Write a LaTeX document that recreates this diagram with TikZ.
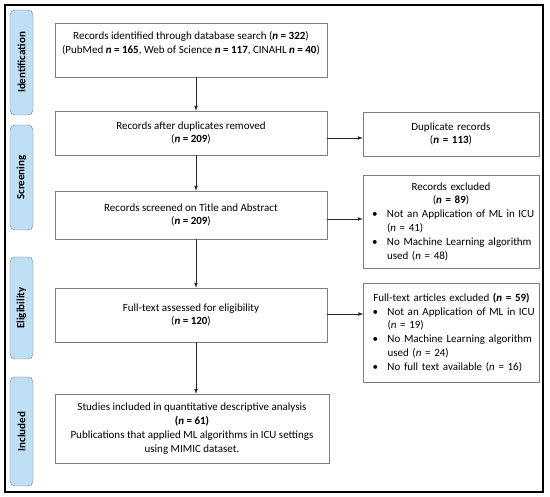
\documentclass[tikz,border=0pt]{standalone}
\usepackage{fontspec}
\setmainfont{Carlito}
\usepackage{tikz}

\definecolor{phasefill}{RGB}{190,223,244}
\definecolor{phaseline}{RGB}{105,125,145}
\definecolor{boxline}{RGB}{125,125,125}
\newcommand{\nn}{\textit{n}}
\newcommand{\exitem}[1]{\par\hangindent=21pt\hangafter=1\noindent\makebox[21pt][l]{\hspace{6pt}\textbullet}#1\par}

\begin{document}
\begin{tikzpicture}[x=1pt,y=-1pt,
  phase/.style={draw=phaseline,fill=phasefill,rounded corners=5pt,rotate=90,
    minimum height=23pt,inner sep=0pt,font=\fontsize{11}{13}\selectfont\bfseries},
  mainbox/.style={draw=boxline,minimum width=272pt,align=center,inner sep=3pt},
  sidebox/.style={draw=boxline,text width=170pt,align=left,inner sep=3pt},
  arr/.style={-latex,black!85,line width=0.7pt}]
\fontsize{11}{13.8}\selectfont
\hyphenpenalty=10000 \exhyphenpenalty=10000
\useasboundingbox (0,0) rectangle (550,497);
\draw[line width=1.6pt] (5,5) rectangle (543,492);
% phases
\node[phase,minimum width=105pt] (idph) at (21.5,62.5) {Identification};
\node[phase,minimum width=105pt] (scph) at (21.5,177.5) {Screening};
\node[phase,minimum width=102pt] (elph) at (21.5,308) {Eligibility};
\node[phase,minimum width=109pt] (inph) at (21.5,431.5) {Included};
% main column
\node[mainbox,minimum height=54pt] (search) at (191,50)
  {Records identified through database search (\textbf{\nn{} = 322})\\
   (PubMed \textbf{\nn{} = 165}, Web of Science \textbf{\nn{} = 117}, CINAHL \textbf{\nn{} = 40})\\[2pt]};
\node[mainbox,minimum height=44pt] (dedup) at (191,133)
  {Records after duplicates removed\\(\textbf{\nn{} = 209})};
\node[mainbox,minimum height=48pt] (screen) at (191,215)
  {Records screened on Title and Abstract\\(\textbf{\nn{} = 209})};
\node[mainbox,minimum height=54pt] (fulltext) at (191,315)
  {Full-text assessed for eligibility\\(\textbf{\nn{} = 120})};
\node[mainbox,minimum width=274pt,minimum height=69pt] (included) at (192,428.5)
  {Studies included in quantitative descriptive analysis\\
   \textbf{(\nn{} = 61)}\\
   Publications that applied ML algorithms in ICU settings\\
   using MIMIC dataset.};
% side column
\node[sidebox,minimum height=44pt,align=center] (dup) at (451,134)
  {Duplicate records\\(\textbf{\nn{} = 113})};
\node[sidebox,minimum height=93pt] (recexcl) at (451,221.5)
  {{\centering Records excluded\\(\textbf{\nn{} = 89})\par}
   \exitem{Not an Application of ML in ICU (\nn{} = 41)}
   \exitem{No Machine Learning algorithm used (\nn{} = 48)}};
\node[sidebox,minimum height=99pt] (ftexcl) at (451.5,332.5)
  {{\centering Full-text articles excluded \textbf{(\nn{} = 59)}\par}
   \exitem{Not an Application of ML in ICU (\nn{} = 19)}
   \exitem{No Machine Learning algorithm used (\nn{} = 24)}
   \exitem{No full text available (\nn{} = 16)}};
% arrows
\draw[arr] ([xshift=5pt]search.south) -- ([xshift=5pt]dedup.north);
\draw[arr] ([xshift=5pt]dedup.south) -- ([xshift=5pt]screen.north);
\draw[arr] ([xshift=5pt]screen.south) -- ([xshift=5pt]fulltext.north);
\draw[arr] ([xshift=5pt]fulltext.south) -- ([xshift=4pt]included.north);
\draw[arr] ([yshift=-5pt]dedup.east) -- ([yshift=-5pt]dedup.east -| dup.west);
\draw[arr] ([yshift=-4pt]screen.east) -- ([yshift=-4pt]screen.east -| recexcl.west);
\draw[arr] ([yshift=1pt]fulltext.east) -- ([yshift=1pt]fulltext.east -| ftexcl.west);
\end{tikzpicture}
\end{document}
